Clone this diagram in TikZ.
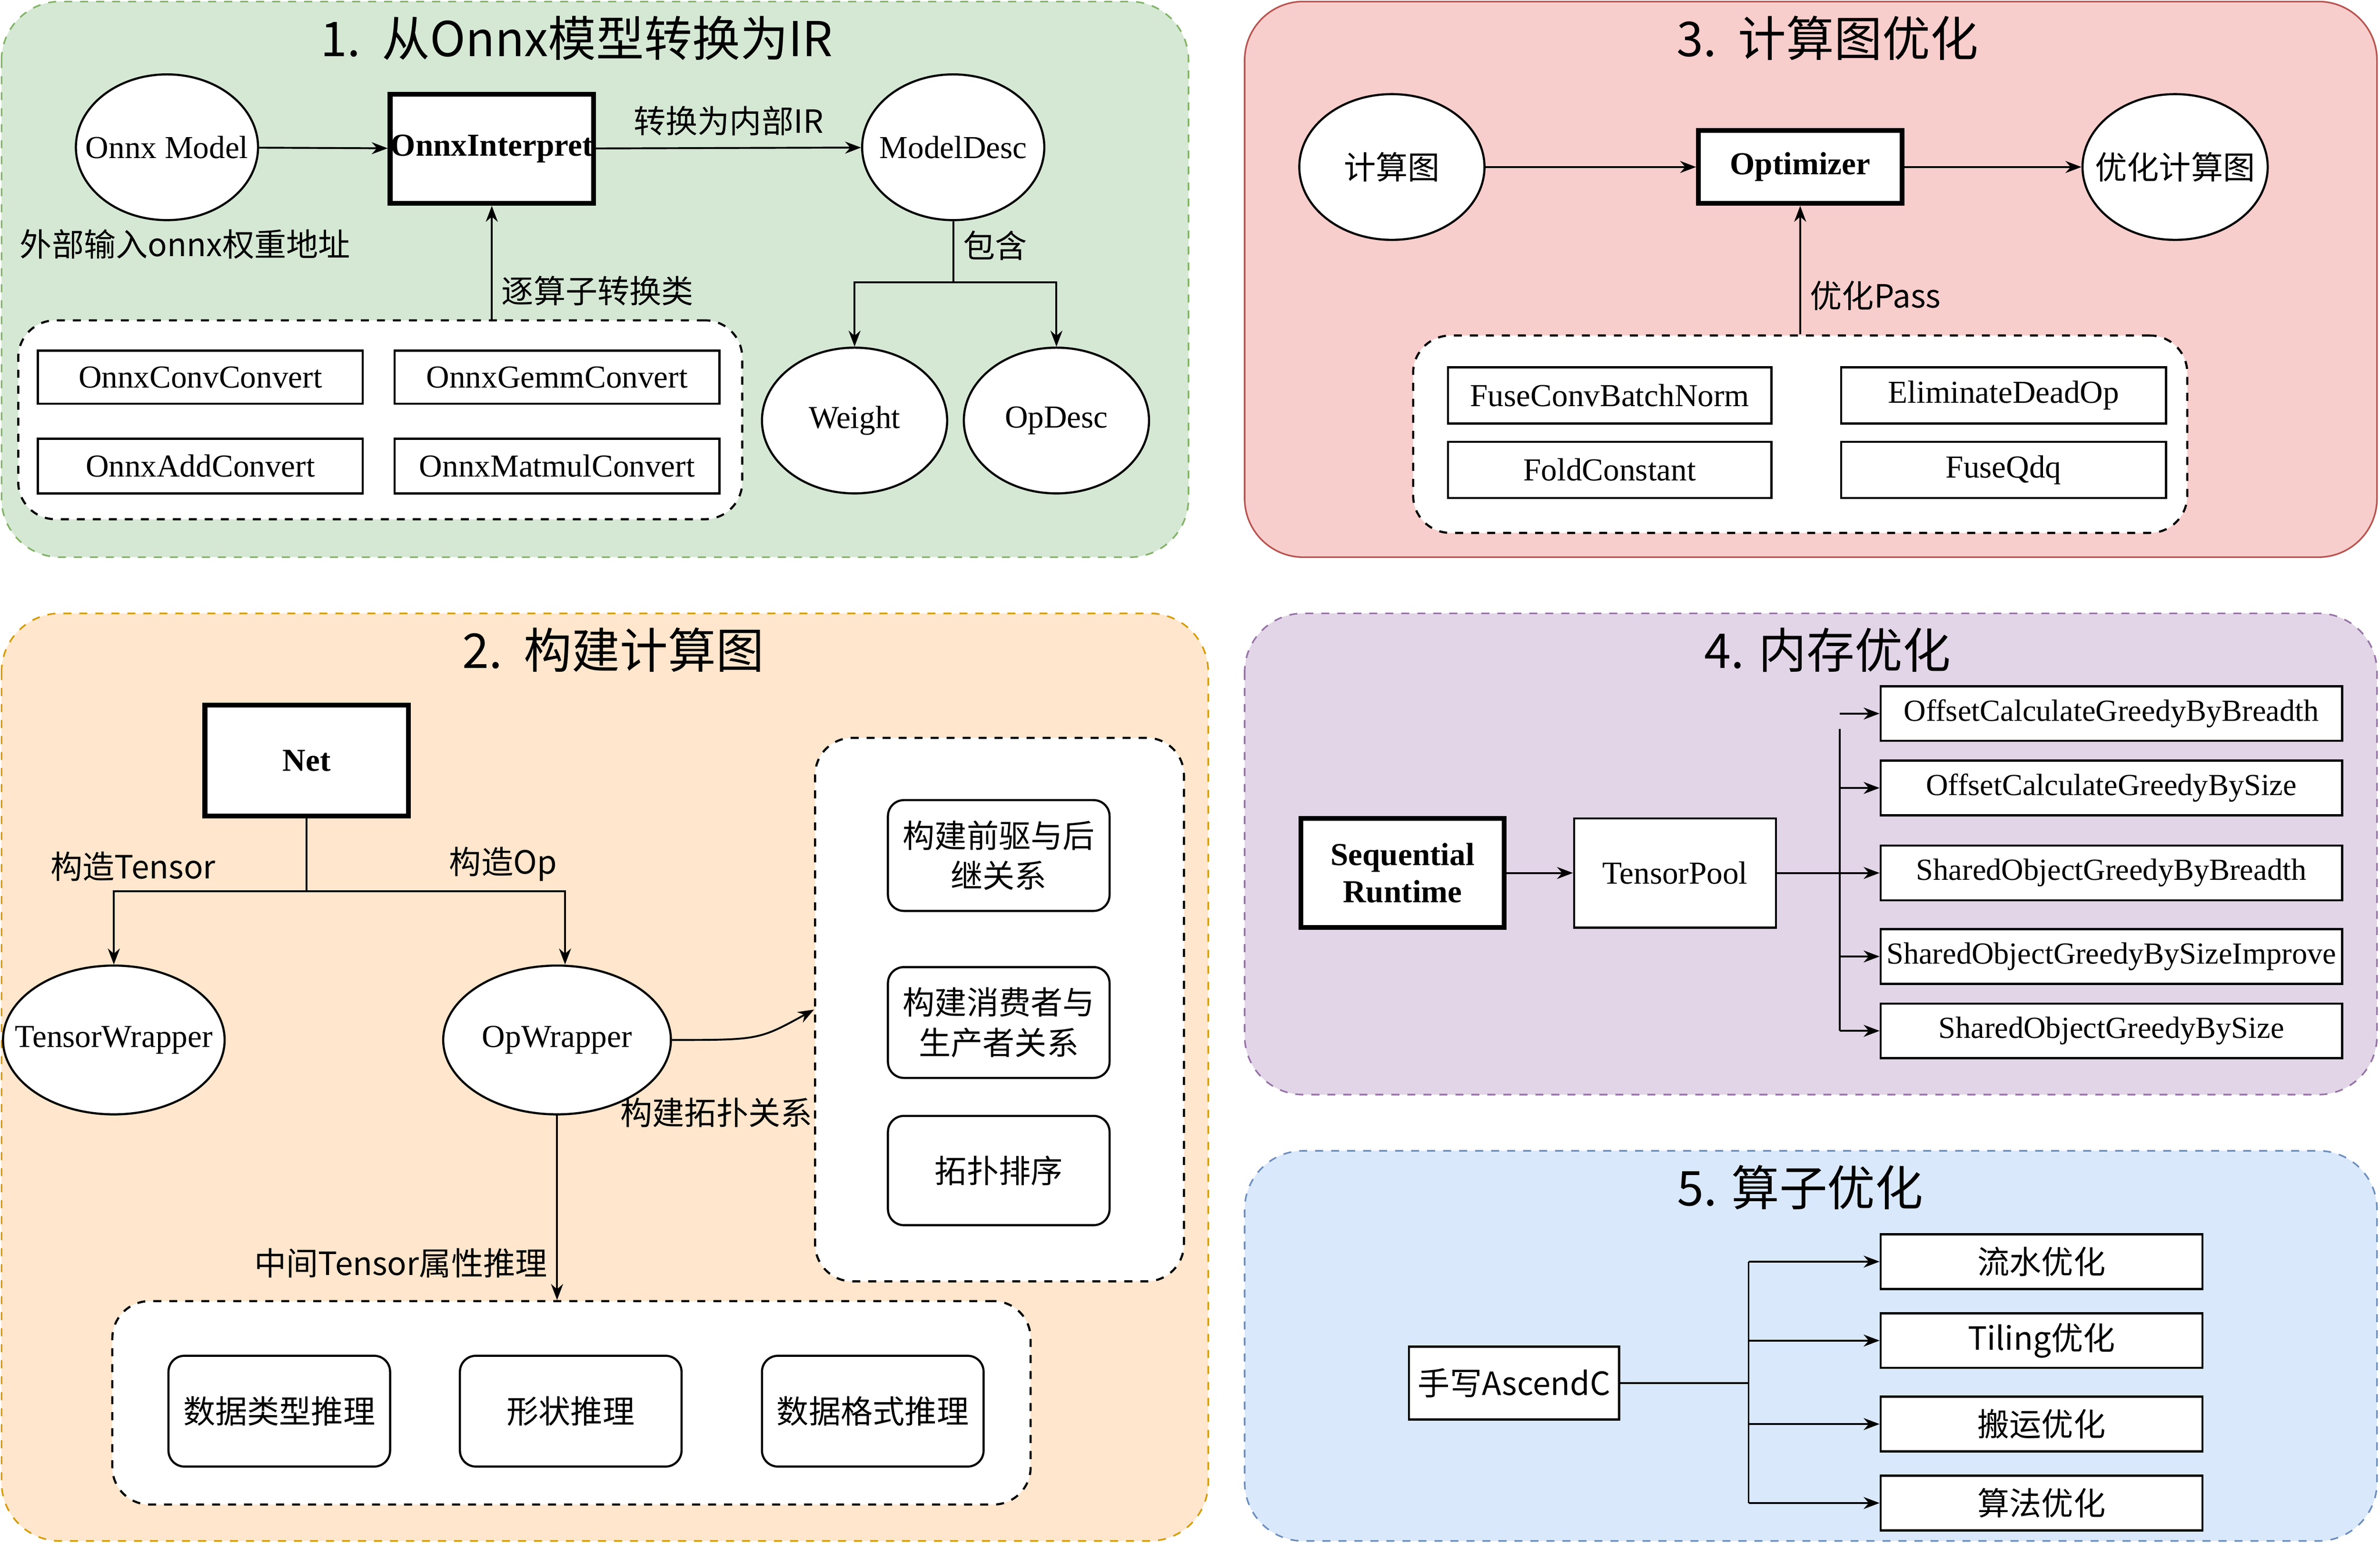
\documentclass[tikz,border=0pt]{standalone}
\usepackage{fontspec}
\setmainfont{Liberation Serif}
\newfontfamily\cjk{Noto Sans CJK SC}
\usetikzlibrary{arrows.meta,shapes.geometric,positioning}
\definecolor{gfill}{HTML}{D5E8D4}\definecolor{gline}{HTML}{82B366}
\definecolor{rfill}{HTML}{F8CECC}\definecolor{rline}{HTML}{B85450}
\definecolor{ofill}{HTML}{FFE6CC}\definecolor{oline}{HTML}{D79B00}
\definecolor{pfill}{HTML}{E1D5E7}\definecolor{pline}{HTML}{9673A6}
\definecolor{bfill}{HTML}{DAE8FC}\definecolor{bline}{HTML}{6C8EBF}
\newcommand\px[1]{#1*0.02cm}
\tikzset{
	panel/.style={rounded corners=22pt, dashed, line width=0.6pt},
	box/.style={draw, fill=white, line width=0.8pt, font=\fontsize{12}{14}\selectfont},
	bold box/.style={draw, fill=white, line width=1.8pt, font=\bfseries\fontsize{12}{14}\selectfont, align=center},
	soft box/.style={draw, fill=white, rounded corners=6pt, line width=0.8pt, align=center, font=\cjk\fontsize{12}{15}\selectfont},
	blob/.style={draw, fill=white, ellipse, line width=0.8pt, inner xsep=-9pt, inner ysep=0pt, font=\fontsize{12}{14}\selectfont},
	holder/.style={draw, fill=white, dashed, rounded corners=14pt, line width=0.8pt},
	title/.style={font=\cjk\fontsize{18}{20}\selectfont},
	tag/.style={font=\cjk\fontsize{12}{14}\selectfont},
	link/.style={-{Stealth[length=6pt]}, line width=0.7pt},
}
\begin{document}
\begin{tikzpicture}[x=0.02cm, y=-0.02cm]
	\useasboundingbox (0,0) rectangle (1568,1017);
	%panels
	\draw[panel, fill=gfill, draw=gline] (1,1) rectangle (783,367);
	\draw[panel, solid, fill=rfill, draw=rline] (820,1) rectangle (1566,367);
	\draw[panel, fill=ofill, draw=oline] (1,404) rectangle (796,1015);
	\draw[panel, fill=pfill, draw=pline] (820,404) rectangle (1566,721);
	\draw[panel, fill=bfill, draw=bline] (820,758) rectangle (1566,1015);
	\node[title] (t1) at (380,25) {1.\ \ 从Onnx模型转换为IR};
	\node[title] (t3) at (1204,25) {3.\ \ 计算图优化};
	\node[title] (t2) at (404,428) {2.\ \ 构建计算图};
	\node[title] (t4) at (1204,428) {4. 内存优化};
	\node[title] (t5) at (1186,782) {5. 算子优化};
	
	%onnx import
	\node[blob, minimum width=\px{120}, minimum height=\px{96}] (onnx) at (110,97) {Onnx Model};
	\node[bold box, minimum width=\px{134}, minimum height=\px{72}, inner sep=0pt] (interp) at (324,98) {OnnxInterpret};
	\node[blob, minimum width=\px{120}, minimum height=\px{96}] (mdesc) at (628,97) {ModelDesc};
	\node[tag] (extern) at (122,161) {外部输入onnx权重地址};
	\draw[link] (onnx) -- (interp);
	\draw[link] (interp) -- node[tag, above=1pt] {转换为内部IR} (mdesc);
	\node[holder, minimum width=\px{477}, minimum height=\px{131}] (convs) at (250.5,276.5) {};
	\node[box, minimum width=\px{214}, minimum height=\px{35}] (conv) at (132,248.5) {OnnxConvConvert};
	\node[box, minimum width=\px{214}, minimum height=\px{35}] (gemm) at (367,248.5) {OnnxGemmConvert};
	\node[box, minimum width=\px{214}, minimum height=\px{36}] (add) at (132,307) {OnnxAddConvert};
	\node[box, minimum width=\px{214}, minimum height=\px{36}] (matmul) at (367,307) {OnnxMatmulConvert};
	\draw[link] (convs.north -| interp.south) -- node[tag, right, pos=0.25] {逐算子转换类} (interp.south);
	\node[blob, minimum width=\px{122}, minimum height=\px{96}] (weight) at (563,277) {Weight};
	\node[blob, minimum width=\px{122}, minimum height=\px{96}] (opdesc) at (696,277) {OpDesc};
	\coordinate (split) at (628,186);
	\draw[line width=0.7pt] (mdesc) -- node[tag, right, pos=0.4] {包含} (split);
	\draw[link] (split) -| (weight);
	\draw[link] (split) -| (opdesc);
	
	%optimizer
	\node[blob, minimum width=\px{122}, minimum height=\px{96}] (graph) at (917,110) {\cjk 计算图};
	\node[bold box, minimum width=\px{134}, minimum height=\px{48}] (optim) at (1186,110) {Optimizer};
	\node[blob, minimum width=\px{122}, minimum height=\px{96}] (ograph) at (1433,110) {\cjk 优化计算图};
	\draw[link] (graph) -- (optim);
	\draw[link] (optim) -- (ograph);
	\node[holder, minimum width=\px{510}, minimum height=\px{130}] (passes) at (1186,286) {};
	\node[box, minimum width=\px{213}, minimum height=\px{37}] (fcbn) at (1060.5,260.5) {FuseConvBatchNorm};
	\node[box, minimum width=\px{214}, minimum height=\px{37}] (elim) at (1320,260.5) {EliminateDeadOp};
	\node[box, minimum width=\px{213}, minimum height=\px{37}] (fold) at (1060.5,309.5) {FoldConstant};
	\node[box, minimum width=\px{214}, minimum height=\px{37}] (qdq) at (1320,309.5) {FuseQdq};
	\draw[link] (passes.north) -- node[tag, right, pos=0.3] {优化Pass} (optim.south);
	
	%build graph
	\node[bold box, minimum width=\px{134}, minimum height=\px{73}] (net) at (202,501) {Net};
	\node[blob, minimum width=\px{146}, minimum height=\px{98}] (twrap) at (75,685) {TensorWrapper};
	\node[blob, minimum width=\px{150}, minimum height=\px{98}] (owrap) at (367,685) {OpWrapper};
	\coordinate (fork) at (202,587);
	\draw[line width=0.7pt] (net) -- (fork);
	\draw[link] (fork) -| node[tag, above, pos=0.45] {构造Tensor} (twrap.north);
	\draw[link] (fork) -| node[tag, above, pos=0.38] {构造Op} ([xshift=3pt]owrap.north);
	\node[holder, minimum width=\px{243}, minimum height=\px{358}] (topo) at (658.5,665) {};
	\node[soft box, minimum width=\px{146}, minimum height=\px{73}] (pred) at (658,563.5) {构建前驱与后\\继关系};
	\node[soft box, minimum width=\px{146}, minimum height=\px{73}] (cons) at (658,673.5) {构建消费者与\\生产者关系};
	\node[soft box, minimum width=\px{146}, minimum height=\px{72}] (sort) at (658,771) {拓扑排序};
	\draw[link] (owrap.east) .. controls (500,685) .. (topo.west);
	\node[tag] (topolbl) at (472,733) {构建拓扑关系};
	\node[holder, minimum width=\px{605}, minimum height=\px{134}] (infer) at (376.5,924) {};
	\node[soft box, minimum width=\px{146}, minimum height=\px{73}] (dtype) at (184,929.5) {数据类型推理};
	\node[soft box, minimum width=\px{146}, minimum height=\px{73}] (shape) at (376,929.5) {形状推理};
	\node[soft box, minimum width=\px{146}, minimum height=\px{73}] (fmt) at (575,929.5) {数据格式推理};
	\draw[link] (owrap.south) -- node[tag, left, pos=0.8] {中间Tensor属性推理} (owrap.south |- infer.north);
	
	%memory
	\node[bold box, minimum width=\px{134}, minimum height=\px{72}] (seq) at (924,575) {Sequential\\Runtime};
	\node[box, minimum width=\px{133}, minimum height=\px{72}] (pool) at (1103.5,575) {TensorPool};
	\draw[link] (seq) -- (pool);
	\coordinate (trunk) at (1212,575);
	\draw[line width=0.7pt] (pool) -- (trunk) (1212,480) -- (1212,679);
	\foreach \name/\y/\txt in {ocb/470/OffsetCalculateGreedyByBreadth, ocs/519/OffsetCalculateGreedyBySize, sob/575/SharedObjectGreedyByBreadth, sosi/630/SharedObjectGreedyBySizeImprove, sos/679/SharedObjectGreedyBySize}{
		\node[box, minimum width=\px{304}, minimum height=\px{36}, inner sep=0pt, font=\fontsize{11.5}{14}\selectfont] (\name) at (1391,\y) {\txt};
		\draw[link] (1212,\y) -- (\name.west);
	}
	
	%kernel
	\node[box, minimum width=\px{133}, minimum height=\px{48}, font=\cjk\fontsize{12}{14}\selectfont] (ascend) at (997.5,911) {手写AscendC};
	\draw[line width=0.7pt] (ascend) -- (1152,911) (1152,831) -- (1152,990);
	\foreach \name/\y/\txt in {pipe/831/流水优化, tile/883/Tiling优化, move/938/搬运优化, algo/990/算法优化}{
		\node[box, minimum width=\px{212}, minimum height=\px{36}, font=\cjk\fontsize{12}{14}\selectfont] (\name) at (1345,\y) {\txt};
		\draw[link] (1152,\y) -- (\name.west);
	}
\end{tikzpicture}
\end{document}
